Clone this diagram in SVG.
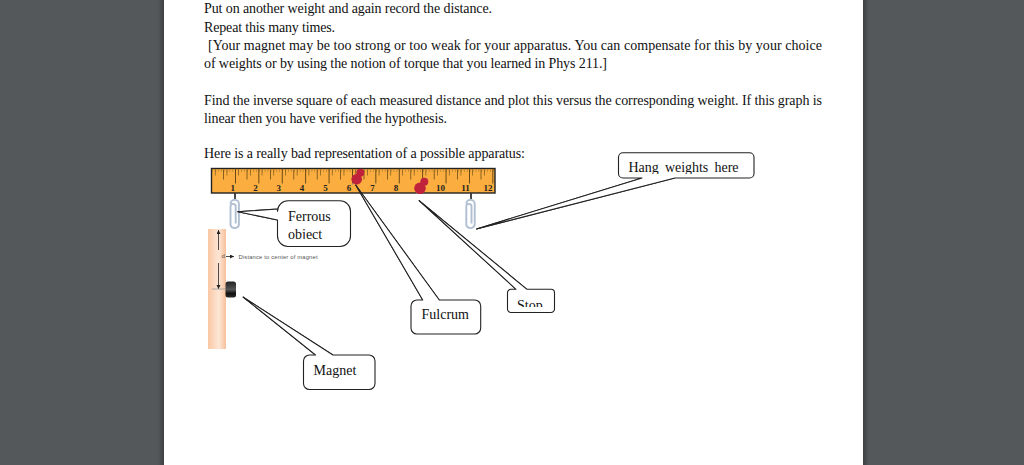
<svg xmlns="http://www.w3.org/2000/svg" width="1024" height="465" viewBox="0 0 1024 465">
<style>
.t{font-family:"Liberation Serif","Times New Roman",serif;font-size:14px;fill:#111}
.c{fill:#fff;stroke:#222;stroke-width:1.1;stroke-linejoin:round}
.n{font-family:"Liberation Serif",serif;font-size:9px;font-weight:bold;fill:#222;text-anchor:middle}
.clip{fill:none;stroke:#b0bfd2;stroke-width:1.900}
.pin{fill:#c0223c}
.neck{fill:none;stroke:#8e1a2e;stroke-width:3.500}
.hang{fill:none;stroke:#333;stroke-width:1.800}
</style>
<defs>
<linearGradient id="sl" x1="0" x2="1" y1="0" y2="0"><stop offset="0" stop-color="#54585a"/><stop offset="1" stop-color="#3c4042"/></linearGradient>
<linearGradient id="sr" x1="1" x2="0" y1="0" y2="0"><stop offset="0" stop-color="#54585a"/><stop offset="1" stop-color="#3c4042"/></linearGradient>
<linearGradient id="bar" x1="0" x2="1" y1="0" y2="0"><stop offset="0" stop-color="#f9c7a3"/><stop offset=".6" stop-color="#fde6d6"/><stop offset="1" stop-color="#f7c09a"/></linearGradient>
<linearGradient id="mag" x1="0" x2="0" y1="0" y2="1"><stop offset="0" stop-color="#222"/><stop offset=".5" stop-color="#555"/><stop offset=".75" stop-color="#111"/><stop offset="1" stop-color="#2a2a2a"/></linearGradient>
<clipPath id="cf"><rect x="278" y="202" width="72" height="37"/></clipPath>
<clipPath id="cs"><rect x="508" y="295" width="46" height="12"/></clipPath>
<clipPath id="ch"><rect x="619" y="154" width="135" height="20"/></clipPath>
<marker id="ah" markerWidth="6" markerHeight="6" refX="4" refY="2" orient="auto" markerUnits="userSpaceOnUse"><path d="M0 0L4 2L0 4Z" fill="#222"/></marker>
<g id="cl"><path class="clip" d="M0 4.500a4.200 4.200 0 0 1 8.400 0v21a4.400 4.400 0 0 1-8.400 0V7a2.600 2.600 0 0 1 5.200 0v17"/></g>
</defs>

<rect width="1024" height="465" fill="#54585a"/>
<rect x="158" width="6" height="465" fill="url(#sl)"/>
<rect x="863" width="6" height="465" fill="url(#sr)"/>
<rect x="164" width="699" height="465" fill="#fff"/>

<g id="body-text" class="t">
<text x="204" y="12.500" textLength="288">Put on another weight and again record the distance.</text>
<text x="204" y="31.500" textLength="131">Repeat this many times.</text>
<text x="208" y="50" textLength="614">[Your magnet may be too strong or too weak for your apparatus. You can compensate for this by your choice</text>
<text x="204" y="67.500" textLength="403">of weights or by using the notion of torque that you learned in Phys 211.]</text>
<text x="204" y="104.500" textLength="618">Find the inverse square of each measured distance and plot this versus the corresponding weight. If this graph is</text>
<text x="204" y="122.500" textLength="243">linear then you have verified the hypothesis.</text>
<text x="204" y="157.500" textLength="321">Here is a really bad representation of a possible apparatus:</text>
</g>

<g id="ruler">
<rect x="211.500" y="168.500" width="283.500" height="24.500" fill="#fbae3f" stroke="#222" stroke-width="1.400"/>
<path d="M212 170.800H494" stroke="#a8782c" stroke-width="2.600" stroke-dasharray=".6 2.330" fill="none"/>
<path d="M214.900 172.500H494" stroke="#7a5a20" stroke-width="6" stroke-dasharray=".7 11" fill="none"/>
<path d="M223.200 174.500H494" stroke="#6a4d1a" stroke-width="10" stroke-dasharray=".8 22.600" fill="none"/>
<path d="M235 176H494" stroke="#5a4015" stroke-width="15" stroke-dasharray=".9 22.500" fill="none"/>
<g class="n">
<text x="232.700" y="191">1</text><text x="255.500" y="191">2</text><text x="278.800" y="191">3</text><text x="302" y="191">4</text><text x="325.600" y="191">5</text><text x="349" y="191">6</text><text x="372.600" y="191">7</text><text x="396" y="191">8</text><text x="440.600" y="191">10</text><text x="465.600" y="191">11</text><text x="488" y="191">12</text>
</g>
</g>

<g id="paperclips">
<path class="hang" d="M235 193V199"/>
<use href="#cl" x="230.500" y="199.500"/>
<path class="hang" d="M471 193V199"/>
<use href="#cl" x="466.300" y="199.500"/>
</g>

<g id="pins">
<path d="M356 180L352 185M420 189L416 194" stroke="#999" stroke-width="1" fill="none"/>
<path class="neck" d="M356.700 179.300L360.300 172.700"/><circle class="pin" cx="356.700" cy="179.300" r="5.300"/><circle class="pin" cx="360.300" cy="172.700" r="4"/>
<path class="neck" d="M420 188.300L424.300 181.700"/><circle class="pin" cx="420" cy="188.300" r="5.800"/><circle class="pin" cx="424.300" cy="181.700" r="4"/>
</g>

<g id="magnet-bar">
<rect x="208" y="229" width="18" height="120" fill="url(#bar)"/>
<path d="M218.500 250V230" stroke="#222" stroke-width=".8" marker-end="url(#ah)" fill="none"/>
<path d="M218.500 263V289" stroke="#222" stroke-width=".8" marker-end="url(#ah)" fill="none"/>
<path d="M212 289H226" stroke="#999" stroke-width=".8"/>
<text x="221.500" y="258" font-family="Liberation Sans,sans-serif" font-size="6" fill="#555">d</text>
<path d="M226 256.500H234" stroke="#222" stroke-width=".8" marker-end="url(#ah)"/>
<text x="238.500" y="258.500" font-family="Liberation Sans,sans-serif" font-size="5.800" fill="#555" textLength="79">Distance to center of magnet</text>
<rect x="225.500" y="281.500" width="10.500" height="16" rx="2.500" fill="url(#mag)"/>
</g>

<g id="connectors" fill="none" stroke="#222" stroke-width="1">
<path d="M277.500 209L237.700 211.700L277.500 220"/>
<path d="M315.500 355L243 297L333 355"/>
<path d="M422.700 300L355.700 185L439.300 300"/>
<path d="M516 289.300L419 200.500L527 289.300"/>
<path d="M642 178L476.500 229L675 178"/>
</g>

<g id="ferrous">
<path class="c" d="M288 200.700H340a10.500 10.500 0 0 1 10.500 10.500V236a10.500 10.500 0 0 1-10.500 10.500H288a10.500 10.500 0 0 1-10.500-10.500V220L237.700 211.700L277.500 209V211.200a10.500 10.500 0 0 1 10.500-10.500Z"/>
<g clip-path="url(#cf)" class="t"><text x="288" y="221">Ferrous</text><text x="288" y="238.500">object</text></g>
</g>
<g id="magnet">
<path class="c" d="M310 355H315.500L243 297L333 355H369a6 6 0 0 1 6 6V383.500a6 6 0 0 1-6 6H309.500a6 6 0 0 1-6-6V361a6 6 0 0 1 6-6Z"/>
<text class="t" x="313.500" y="375">Magnet</text>
</g>
<g id="fulcrum">
<path class="c" d="M417 300H422.700L355.700 185L439.300 300H474.700a6 6 0 0 1 6 6V328a6 6 0 0 1-6 6H417a6 6 0 0 1-6-6V306a6 6 0 0 1 6-6Z"/>
<text class="t" x="421.500" y="319">Fulcrum</text>
</g>
<g id="stop">
<path class="c" d="M511 289.300H516L419 200.500L527 289.300H551a3.500 3.500 0 0 1 3.500 3.500V309a3.500 3.500 0 0 1-3.500 3.500H511a3.500 3.500 0 0 1-3.500-3.500V293a3.500 3.500 0 0 1 3.500-3.700Z"/>
<g clip-path="url(#cs)"><text class="t" x="517" y="310">Stop</text></g>
</g>
<g id="hang-weights">
<path class="c" d="M623 152.700H749.500a4.500 4.500 0 0 1 4.500 4.500V173.500a4.500 4.500 0 0 1-4.500 4.500H675L476.500 229L642 178H623a4.500 4.500 0 0 1-4.500-4.500V157.200a4.500 4.500 0 0 1 4.500-4.500Z"/>
<g clip-path="url(#ch)"><text class="t" x="628.500" y="172" word-spacing="3" textLength="110">Hang weights here</text></g>
</g>
</svg>
